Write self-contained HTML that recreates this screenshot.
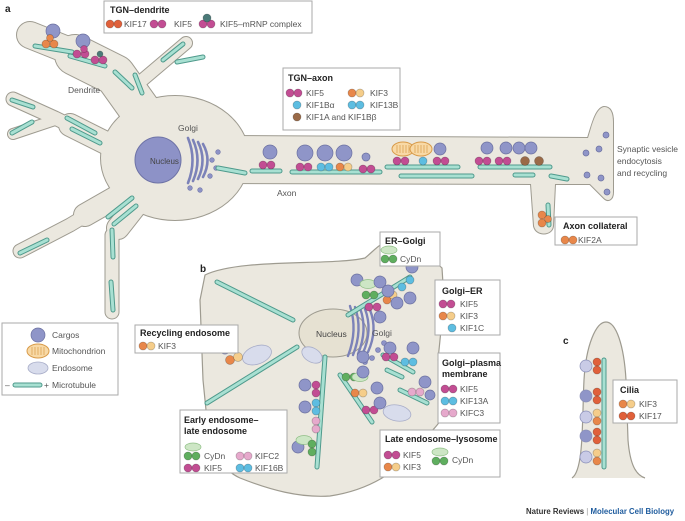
<!DOCTYPE html>
<html><head><meta charset="utf-8"><style>
html,body{margin:0;padding:0;background:#fff}
svg{display:block}
text{font-family:"Liberation Sans",sans-serif;fill:#555;font-size:8.5px}
.t{font-weight:bold;fill:#222;font-size:9px}
.lab{fill:#222;font-weight:bold;font-size:10px}
</style></head><body>
<svg id="s" width="685" height="521" viewBox="0 0 685 521" xmlns="http://www.w3.org/2000/svg">
<g id="bg"></g>
<g id="mt"></g>
<g id="fg"></g>
<g id="boxes"></g>
<g id="txt">
<text class="lab" x="5" y="12">a</text>
<text class="lab" x="200" y="272">b</text>
<text class="lab" x="563" y="344">c</text>
<text x="150" y="164" style="fill:#444;font-size:8px">Nucleus</text>
<text x="178" y="131">Golgi</text>
<text x="68" y="93">Dendrite</text>
<text x="277" y="196">Axon</text>
<text x="617" y="152">Synaptic vesicle</text>
<text x="617" y="164">endocytosis</text>
<text x="617" y="176">and recycling</text>
<text x="316" y="337" style="fill:#444">Nucleus</text>
<text x="372" y="336">Golgi</text>
</g>
</svg>
<script>
const NS="http://www.w3.org/2000/svg";
const G=id=>document.getElementById(id);
function el(p,tag,a){const e=document.createElementNS(NS,tag);for(const k in a)e.setAttribute(k,a[k]);G(p).appendChild(e);return e;}
const CF="#ebe8df",CS="#9e9b90";
const MAG="#c24d93",OR="#e8874a",YE="#f5cd8a",CY="#5dbde1",PK="#e6a9cc",GR="#5fae5f",BR="#9a6a48",RD="#e0603a",CG="#8f95c8",CL="#c9cbe6";
const lines=[
 [[[140,110],[115,75],[75,55]],40],[[[80,55],[30,35]],26],[[[140,82],[186,43]],12],
 [[[110,145],[70,125]],22],[[[110,145],[55,118],[13,99]],13],[[[55,120],[13,134]],10],
 [[[120,195],[85,215]],22],[[[120,195],[70,225],[20,251]],13],
 [[[140,200],[118,228]],22],[[[140,200],[112,235],[112,312]],13]
];
const soma={cx:175,cy:158,rx:74,ry:62};
const axon="M225,136 L588,138 C592,125 596,108 604,107 C610,107 613,112 613,122 L613,192 C613,200 608,202 604,198 L590,184 L555,184 L553,226 C552,236 536,236 534,226 L531,184 L228,183 Z";
const cellB="M205,275 C240,258 330,266 365,258 C375,250 382,240 392,242 C410,246 432,258 442,268 L444,300 L438,360 L446,412 C436,430 422,440 410,452 C400,470 370,490 330,496 C300,498 270,490 240,478 C222,470 212,450 208,430 L203,380 L200,300 Z";
function layer(outline){
 const p="bg";
 lines.forEach(([pts,w])=>el(p,"polyline",{points:pts.map(a=>a.join(",")).join(" "),fill:"none",stroke:outline?CS:CF,"stroke-width":outline?w+2:w,"stroke-linecap":"round","stroke-linejoin":"round"}));
 el(p,"ellipse",{cx:soma.cx,cy:soma.cy,rx:soma.rx,ry:soma.ry,fill:CF,stroke:outline?CS:"none","stroke-width":2});
 el(p,"path",{d:axon,fill:CF,stroke:outline?CS:"none","stroke-width":2});
}
layer(true);layer(false);
el("bg","path",{d:cellB,fill:CF,stroke:CS,"stroke-width":1.2});
el("bg","path",{d:"M572,478 C584,470 582,420 584,380 C586,345 596,322 606,322 C616,322 624,345 626,380 L628,440 C630,465 636,475 645,478 Z",fill:CF,stroke:"none"});
el("bg","path",{d:"M572,478 C584,470 582,420 584,380 C586,345 596,322 606,322 C616,322 624,345 626,380 L628,440 C630,465 636,475 645,478",fill:"none",stroke:CS,"stroke-width":1.2});
el("bg","circle",{cx:158,cy:160,r:23,fill:"#8d92c7",stroke:"#6e73a6","stroke-width":1});
[188,193,198,203].forEach((x,i)=>el("bg","path",{d:`M${x},${138+i*2} Q${x+9},160 ${x},${183-i*2}`,fill:"none",stroke:"#7c82b8","stroke-width":2.6,"stroke-linecap":"round"}));
[[212,160],[216,168],[200,190],[210,176],[190,188],[218,152]].forEach(([x,y])=>el("bg","circle",{cx:x,cy:y,r:2.3,fill:"#8d92c7",stroke:"#6e73a6","stroke-width":.6}));
el("bg","ellipse",{cx:333,cy:333,rx:34,ry:24,fill:"#e6e1d2",stroke:CS,"stroke-width":1});
[350,355,360,365,370].forEach((x,i)=>el("bg","path",{d:`M${x},${306+i} Q${x+8},330 ${x-2},${356-i}`,fill:"none",stroke:"#7c82b8","stroke-width":2.4,"stroke-linecap":"round"}));
[[378,350],[372,358],[365,362],[384,343]].forEach(([x,y])=>el("bg","circle",{cx:x,cy:y,r:2.5,fill:"#8d92c7",stroke:"#6e73a6","stroke-width":.6}));
function mt(x1,y1,x2,y2,g){g=g||"mt";el(g,"line",{x1,y1,x2,y2,stroke:"#4f9a8c","stroke-width":5,"stroke-linecap":"round"});el(g,"line",{x1,y1,x2,y2,stroke:"#a8e0d2","stroke-width":3,"stroke-linecap":"round"});}
[[35,46,72,52],[70,56,105,66],[163,60,183,44],[177,62,203,57],[115,72,132,88],[135,75,142,93],[12,100,33,107],[12,133,32,122],[67,118,95,133],[72,129,100,143],
 [108,217,132,198],[114,224,136,206],[112,230,113,257],[20,253,47,240],[111,282,113,310],
 [218,168,245,173],[252,171,280,171],[292,172,380,172],[387,167,458,167],[401,176,472,176],[480,167,550,167],[515,175,533,175],[551,176,567,179],[548,205,549,225],
 [217,282,293,320],[207,403,297,347],[348,315,410,277],[325,357,317,467],[340,375,372,422],[383,355,413,372],[387,370,402,377],[400,390,427,403],
 [604,360,604,467]].forEach(a=>mt(...a));
function c(x,y,r,f,s,g){el(g||"fg","circle",{cx:x,cy:y,r,fill:f,stroke:s||"rgba(0,0,0,.25)","stroke-width":.7});}
function pr(x,y,a,b,vert){if(vert){c(x,y,4,a);c(x,y+8,4,b||a);}else{c(x,y,4,a);c(x+8,y,4,b||a);}}
function cg(x,y,r,g){c(x,y,r||6.5,CG,"#6b70a0",g);}
function en(x,y,rx,ry,rot,g){el(g||"fg","ellipse",{cx:x,cy:y,rx,ry,fill:"#d8dcec",stroke:"#a8adc8","stroke-width":.8,transform:`rotate(${rot||0} ${x} ${y})`});}
function gel(x,y){el("fg","ellipse",{cx:x,cy:y,rx:8,ry:4.5,fill:"#cde6c5",stroke:"#8fbf86","stroke-width":.7});}
function mito(x,y,g){g=g||"fg";el(g,"ellipse",{cx:x,cy:y,rx:11,ry:7,fill:"#f8d9a6",stroke:"#d89a48","stroke-width":1});for(let i=-6;i<=6;i+=3)el(g,"line",{x1:x+i,y1:y-4,x2:x+i,y2:y+4,stroke:"#d89a48","stroke-width":.7});}
cg(53,31,7);pr(46,44,OR);c(50,38,3.5,OR);cg(83,41,7);pr(77,54,MAG);c(84,49,3.5,MAG);pr(95,60,MAG);c(100,54,3,"#4b7a78");
cg(270,152,7);pr(263,165,MAG);
cg(305,153,8);cg(325,153,8);cg(344,153,8);pr(300,167,MAG);pr(321,167,CY);pr(340,167,OR,YE);cg(366,157,4);pr(363,169,MAG);
mito(403,149);mito(421,149);pr(397,161,MAG);c(423,161,4,CY);cg(440,149,6);pr(437,161,MAG);
[487,506,519,531].forEach(x=>cg(x,148,6));pr(479,161,MAG);pr(499,161,MAG);c(525,161,4.5,BR);c(539,161,4.5,BR);
[[606,135],[586,153],[599,149],[587,175],[601,178],[607,192]].forEach(([x,y])=>cg(x,y,3));
c(542,215,4,OR);c(542,223,4,OR);c(548,219,3.5,OR);
cg(357,280,6);gel(368,284);pr(366,295,GR);pr(369,307,MAG);c(387,300,4,OR);c(393,295,4,YE);c(402,287,4,CY);c(410,280,4,CY);
cg(380,282,6);cg(388,291,6);cg(397,303,6);cg(410,298,6);cg(380,317,6);cg(412,267,6);
cg(390,348,6);cg(413,348,6);pr(386,357,MAG);pr(405,362,CY);pr(412,392,PK);cg(425,382,6);cg(430,395,5);
en(257,355,15,9,-20);en(312,355,11,7,30);en(397,413,14,8,10);
cg(225,348,6);c(230,360,4.5,OR);c(238,357,4.5,YE);
cg(305,385,6);cg(305,407,6);cg(298,447,6);pr(316,385,MAG,MAG,true);pr(316,403,CY,CY,true);pr(316,421,PK,PK,true);gel(304,440);pr(312,444,GR,GR,true);
pr(346,377,GR);gel(360,377);pr(355,393,OR,YE);pr(366,410,MAG);cg(363,372,6);cg(377,388,6);cg(380,403,6);cg(363,357,6);
[[362,RD,RD,CL],[392,RD,RD,CG],[413,YE,OR,CL],[432,RD,RD,CG],[453,YE,OR,CL]].forEach(([y,a,b,cc])=>{c(597,y,4,a);c(597,y+8,4,b);c(586,y+4,6,cc,"#8a8fb8");});
function box(x,y,w,h){el("boxes","rect",{x,y,width:w,height:h,fill:"#fff",stroke:"#aaa","stroke-width":1});}
[[104,1,208,32],[283,68,117,62],[380,232,60,34],[435,280,65,55],[438,353,62,70],[135,325,103,28],[180,410,107,63],[380,430,120,47],[2,323,116,72],[555,217,82,28],[613,380,64,43]].forEach(a=>box(...a));
cg(38,335,7,"boxes");mito(38,351,"boxes");en(38,368,10,6,0,"boxes");mt(15,385,40,385,"boxes");
function bp(x,y,a,b){const s=(cx,f)=>el("boxes","circle",{cx,cy:y,r:4,fill:f,stroke:"rgba(0,0,0,.25)","stroke-width":.7});s(x,a);s(x+8,b||a);}
function bs(x,y,f){el("boxes","circle",{cx:x,cy:y,r:4,fill:f,stroke:"rgba(0,0,0,.25)","stroke-width":.7});}
function bg(x,y){el("boxes","ellipse",{cx:x,cy:y,rx:8,ry:4,fill:"#cde6c5",stroke:"#8fbf86","stroke-width":.7});}
bp(110,24,RD);bp(154,24,MAG);bp(203,24,MAG);bs(207,18,"#4b7a78");
bp(290,93,MAG);bs(297,105,CY);bs(297,117,BR);bp(352,93,OR,YE);bp(352,105,CY);
bg(389,250);bp(385,259,GR);
bp(443,304,MAG);bp(443,316,OR,YE);bs(452,328,CY);
bp(445,389,MAG);bp(445,401,CY);bp(445,413,PK);
bp(143,346,OR,YE);
bg(193,447);bp(188,456,GR);bp(188,468,MAG);bp(240,456,PK);bp(240,468,CY);
bp(388,455,MAG);bp(388,467,OR,YE);bg(440,452);bp(436,461,GR);
bp(565,240,OR);
bp(623,404,OR,YE);bp(623,416,RD);
</script>
<svg width="685" height="521" style="position:absolute;left:0;top:0" xmlns="http://www.w3.org/2000/svg">
<text class="t" x="110" y="13">TGN–dendrite</text>
<text x="124" y="27">KIF17</text><text x="174" y="27">KIF5</text><text x="220" y="27">KIF5–mRNP complex</text>
<text class="t" x="288" y="81">TGN–axon</text>
<text x="306" y="96">KIF5</text><text x="306" y="108">KIF1Bα</text><text x="306" y="120">KIF1A and KIF1Bβ</text>
<text x="370" y="96">KIF3</text><text x="370" y="108">KIF13B</text>
<text class="t" x="385" y="244">ER–Golgi</text><text x="400" y="262">CyDn</text>
<text class="t" x="442" y="294">Golgi–ER</text>
<text x="460" y="307">KIF5</text><text x="460" y="319">KIF3</text><text x="460" y="331">KIF1C</text>
<text class="t" x="442" y="366">Golgi–plasma</text><text class="t" x="442" y="377">membrane</text>
<text x="460" y="392">KIF5</text><text x="460" y="404">KIF13A</text><text x="460" y="416">KIFC3</text>
<text class="t" x="140" y="336">Recycling endosome</text><text x="158" y="349">KIF3</text>
<text class="t" x="184" y="423">Early endosome–</text><text class="t" x="184" y="434">late endosome</text>
<text x="204" y="459">CyDn</text><text x="204" y="471">KIF5</text><text x="255" y="459">KIFC2</text><text x="255" y="471">KIF16B</text>
<text class="t" x="385" y="442">Late endosome–lysosome</text>
<text x="403" y="458">KIF5</text><text x="403" y="470">KIF3</text><text x="452" y="463">CyDn</text>
<text x="52" y="338">Cargos</text><text x="52" y="354">Mitochondrion</text><text x="52" y="371">Endosome</text>
<text x="5" y="388">–</text><text x="44" y="388">+</text><text x="52" y="388">Microtubule</text>
<text class="t" x="563" y="229">Axon collateral</text><text x="578" y="243">KIF2A</text>
<text class="t" x="620" y="393">Cilia</text><text x="639" y="407">KIF3</text><text x="639" y="419">KIF17</text>
<text x="526" y="514" style="font-size:7.8px;fill:#333;font-weight:bold">Nature Reviews <tspan style="font-weight:normal;fill:#999">|</tspan> <tspan style="fill:#1f5c9e">Molecular Cell Biology</tspan></text>
</svg>
</body></html>
